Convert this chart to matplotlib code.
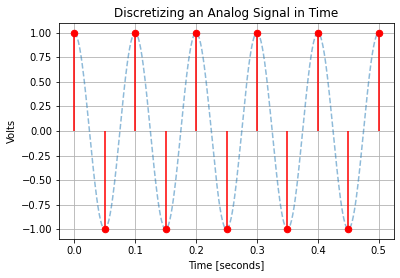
import numpy as np
import matplotlib
matplotlib.use("Agg")
import matplotlib.pyplot as plt

# Analog signal parameters (10 Hz cosine, 1 V amplitude)
signal_freq_hz = 10.0
signal_amp_v = 1.0
t_start, t_end = 0.0, 0.5

# Sample times and sampled values
sample_times = [0.0, 0.05, 0.1, 0.15, 0.2, 0.25, 0.3, 0.35, 0.4, 0.45, 0.5]
sample_values = [1, -1, 1, -1, 1, -1, 1, -1, 1, -1, 1]

t_cont = np.linspace(t_start, t_end, 500)
v_cont = signal_amp_v * np.cos(2 * np.pi * signal_freq_hz * t_cont)

fig = plt.figure(figsize=(400/72, 278/72), dpi=72)
ax = fig.add_axes([59/400, 1-239/278, 335/400, 216/278])
ax.plot(t_cont, v_cont, '--', color='C0', alpha=0.5, zorder=1)
ml, sl, bl = ax.stem(sample_times, sample_values, linefmt='r-', markerfmt='ro', basefmt=' ')
sl.set_alpha(0.85)
sl.set_linewidth(1.8)
ml.set_markersize(6.5)
ax.grid(True, color='#b0b0b0')
ax.set_axisbelow(True)
ax.set_title("Discretizing an Analog Signal in Time")
ax.set_xlabel("Time [seconds]")
ax.set_ylabel("Volts")
ax.set_xticks([0.0, 0.1, 0.2, 0.3, 0.4, 0.5])
ax.set_yticks(np.arange(-1.0, 1.01, 0.25))
fig.savefig("out.png", dpi=72)
